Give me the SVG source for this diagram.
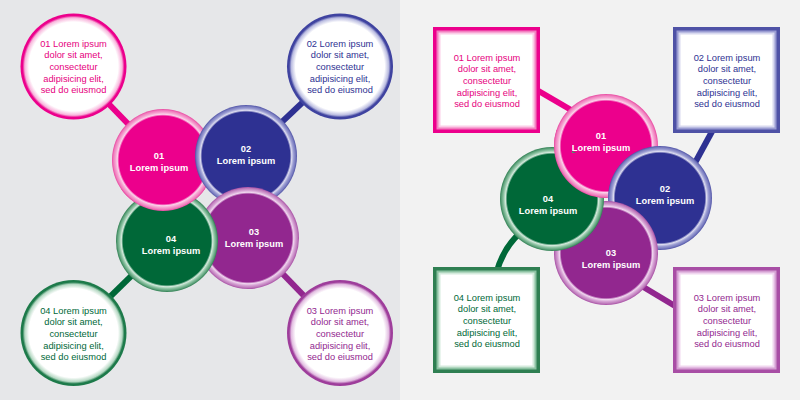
<svg xmlns="http://www.w3.org/2000/svg" xmlns:xlink="http://www.w3.org/1999/xlink" width="800" height="400" viewBox="0 0 800 400">
<defs>
<style>
.t{font-family:"Liberation Sans",Arial,sans-serif;font-size:9.3px;text-anchor:middle}
.b{font-family:"Liberation Sans",Arial,sans-serif;font-size:9.3px;font-weight:bold;text-anchor:middle;fill:#ffffff}
.c1{fill:#e6007e}.c2{fill:#2e3192}.c3{fill:#92278f}.c4{fill:#006838}
.ln{fill:none;stroke-width:6;stroke-linecap:butt}
</style>
<radialGradient id="gi1"><stop offset="0" stop-color="#ec008c"/><stop offset="0.86" stop-color="#ec008c"/><stop offset="0.895" stop-color="#fbd3ea"/><stop offset="0.935" stop-color="#f5a0cf"/><stop offset="0.97" stop-color="#f07cbd"/><stop offset="1" stop-color="#e8469f"/></radialGradient>
<radialGradient id="gi2"><stop offset="0" stop-color="#2e3192"/><stop offset="0.86" stop-color="#2e3192"/><stop offset="0.895" stop-color="#dcdcf0"/><stop offset="0.935" stop-color="#9a9cd2"/><stop offset="0.97" stop-color="#7a7dc0"/><stop offset="1" stop-color="#4f52a6"/></radialGradient>
<radialGradient id="gi3"><stop offset="0" stop-color="#92278f"/><stop offset="0.86" stop-color="#92278f"/><stop offset="0.895" stop-color="#f0d6ef"/><stop offset="0.935" stop-color="#d49fd2"/><stop offset="0.97" stop-color="#c07dbd"/><stop offset="1" stop-color="#a84ea5"/></radialGradient>
<radialGradient id="gi4"><stop offset="0" stop-color="#006838"/><stop offset="0.86" stop-color="#006838"/><stop offset="0.895" stop-color="#d4eadc"/><stop offset="0.935" stop-color="#8cc2a2"/><stop offset="0.97" stop-color="#5fa37c"/><stop offset="1" stop-color="#2f7f52"/></radialGradient>
<radialGradient id="go1"><stop offset="0" stop-color="#ffffff"/><stop offset="0.84" stop-color="#ffffff"/><stop offset="0.92" stop-color="#f8b6dc"/><stop offset="0.96" stop-color="#ec008c"/><stop offset="1" stop-color="#ec008c"/></radialGradient>
<radialGradient id="go2"><stop offset="0" stop-color="#ffffff"/><stop offset="0.84" stop-color="#ffffff"/><stop offset="0.92" stop-color="#b9bbe0"/><stop offset="0.96" stop-color="#3f43a0"/><stop offset="1" stop-color="#3f43a0"/></radialGradient>
<radialGradient id="go3"><stop offset="0" stop-color="#ffffff"/><stop offset="0.84" stop-color="#ffffff"/><stop offset="0.92" stop-color="#e2bde1"/><stop offset="0.96" stop-color="#9e3d9b"/><stop offset="1" stop-color="#9e3d9b"/></radialGradient>
<radialGradient id="go4"><stop offset="0" stop-color="#ffffff"/><stop offset="0.84" stop-color="#ffffff"/><stop offset="0.92" stop-color="#b5d8c3"/><stop offset="0.96" stop-color="#1d7a4a"/><stop offset="1" stop-color="#1d7a4a"/></radialGradient>
<clipPath id="clipL"><rect x="100" y="189" width="115" height="60"/></clipPath>
<clipPath id="clipR"><path d="M540 130 H572 V153 H605 V199 H540 Z"/></clipPath>
</defs>

<rect x="0" y="0" width="400" height="400" fill="#e6e7e9"/>
<rect x="400" y="0" width="400" height="400" fill="#f2f2f2"/>

<g id="connectors">
<line class="ln" x1="73" y1="67" x2="163" y2="160" stroke="#ec008c"/>
<line class="ln" x1="340" y1="67" x2="246" y2="156" stroke="#2e3192"/>
<line class="ln" x1="340" y1="333" x2="248" y2="238" stroke="#92278f"/>
<line class="ln" x1="73" y1="333" x2="167" y2="241" stroke="#006838"/>
<line class="ln" x1="530" y1="86" x2="578" y2="114" stroke="#ec008c"/>
<line class="ln" x1="715" y1="126" x2="690" y2="172" stroke="#2e3192"/>
<line class="ln" x1="640" y1="285" x2="680" y2="309" stroke="#92278f"/>
<path class="ln" d="M526 228 Q504 244 496 274" stroke="#006838"/>
</g>

<g id="left-detail-01">
<circle cx="73.5" cy="66.5" r="53" fill="url(#go1)"/>
<text class="t c1"><tspan x="73.5" y="46.5">01 Lorem ipsum</tspan><tspan x="73.5" y="58.2">dolor sit amet,</tspan><tspan x="73.5" y="69.9">consectetur</tspan><tspan x="73.5" y="81.6">adipisicing elit,</tspan><tspan x="73.5" y="93.3">sed do eiusmod</tspan></text>
</g>
<g id="left-detail-02">
<circle cx="340" cy="66.5" r="53" fill="url(#go2)"/>
<text class="t c2"><tspan x="340" y="46.5">02 Lorem ipsum</tspan><tspan x="340" y="58.2">dolor sit amet,</tspan><tspan x="340" y="69.9">consectetur</tspan><tspan x="340" y="81.6">adipisicing elit,</tspan><tspan x="340" y="93.3">sed do eiusmod</tspan></text>
</g>
<g id="left-detail-03">
<circle cx="340" cy="333" r="53" fill="url(#go3)"/>
<text class="t c3"><tspan x="340" y="313.5">03 Lorem ipsum</tspan><tspan x="340" y="325.2">dolor sit amet,</tspan><tspan x="340" y="336.9">consectetur</tspan><tspan x="340" y="348.6">adipisicing elit,</tspan><tspan x="340" y="360.3">sed do eiusmod</tspan></text>
</g>
<g id="left-detail-04">
<circle cx="73.5" cy="333" r="53" fill="url(#go4)"/>
<text class="t c4"><tspan x="73.5" y="313.5">04 Lorem ipsum</tspan><tspan x="73.5" y="325.2">dolor sit amet,</tspan><tspan x="73.5" y="336.9">consectetur</tspan><tspan x="73.5" y="348.6">adipisicing elit,</tspan><tspan x="73.5" y="360.3">sed do eiusmod</tspan></text>
</g>

<g id="left-step-01">
<circle id="ls1" cx="163" cy="160" r="51" fill="url(#gi1)"/>
<text class="b"><tspan x="159" y="158.5">01</tspan><tspan x="159" y="170.5">Lorem ipsum</tspan></text>
</g>
<g id="left-step-02">
<circle cx="246" cy="156" r="51" fill="url(#gi2)"/>
<text class="b"><tspan x="246" y="151.5">02</tspan><tspan x="246" y="163.5">Lorem ipsum</tspan></text>
</g>
<g id="left-step-03">
<circle cx="248" cy="238" r="51" fill="url(#gi3)"/>
<text class="b"><tspan x="254" y="234.5">03</tspan><tspan x="254" y="246.5">Lorem ipsum</tspan></text>
</g>
<g id="left-step-04">
<circle cx="167" cy="241" r="51" fill="url(#gi4)"/>
<text class="b"><tspan x="171" y="241.5">04</tspan><tspan x="171" y="253.5">Lorem ipsum</tspan></text>
</g>
<use xlink:href="#ls1" href="#ls1" clip-path="url(#clipL)"/>

<g id="right-detail-01">
<rect x="433" y="27" width="107" height="106" fill="#ec008c"/>
<rect x="436.5" y="30.5" width="100" height="99" fill="#f27fc0"/>
<rect x="438.5" y="32.5" width="96" height="95" fill="#fbcde7"/>
<rect x="440.5" y="34.5" width="92" height="91" fill="#ffffff"/>
<text class="t c1"><tspan x="487" y="60.5">01 Lorem ipsum</tspan><tspan x="487" y="72.2">dolor sit amet,</tspan><tspan x="487" y="83.9">consectetur</tspan><tspan x="487" y="95.6">adipisicing elit,</tspan><tspan x="487" y="107.3">sed do eiusmod</tspan></text>
</g>
<g id="right-detail-02">
<rect x="673" y="27" width="107" height="106" fill="#4f52a6"/>
<rect x="676.5" y="30.5" width="100" height="99" fill="#9a9cd2"/>
<rect x="678.5" y="32.5" width="96" height="95" fill="#d8d9ef"/>
<rect x="680.5" y="34.5" width="92" height="91" fill="#ffffff"/>
<text class="t c2"><tspan x="727" y="60.5">02 Lorem ipsum</tspan><tspan x="727" y="72.2">dolor sit amet,</tspan><tspan x="727" y="83.9">consectetur</tspan><tspan x="727" y="95.6">adipisicing elit,</tspan><tspan x="727" y="107.3">sed do eiusmod</tspan></text>
</g>
<g id="right-detail-03">
<rect x="673" y="267" width="107" height="106" fill="#a84ea5"/>
<rect x="676.5" y="270.5" width="100" height="99" fill="#d49fd2"/>
<rect x="678.5" y="272.5" width="96" height="95" fill="#f0d6ef"/>
<rect x="680.5" y="274.5" width="92" height="91" fill="#ffffff"/>
<text class="t c3"><tspan x="727" y="300.5">03 Lorem ipsum</tspan><tspan x="727" y="312.2">dolor sit amet,</tspan><tspan x="727" y="323.9">consectetur</tspan><tspan x="727" y="335.6">adipisicing elit,</tspan><tspan x="727" y="347.3">sed do eiusmod</tspan></text>
</g>
<g id="right-detail-04">
<rect x="433" y="267" width="107" height="106" fill="#2f7f52"/>
<rect x="436.5" y="270.5" width="100" height="99" fill="#8cc2a2"/>
<rect x="438.5" y="272.5" width="96" height="95" fill="#d4eadc"/>
<rect x="440.5" y="274.5" width="92" height="91" fill="#ffffff"/>
<text class="t c4"><tspan x="487" y="300.5">04 Lorem ipsum</tspan><tspan x="487" y="312.2">dolor sit amet,</tspan><tspan x="487" y="323.9">consectetur</tspan><tspan x="487" y="335.6">adipisicing elit,</tspan><tspan x="487" y="347.3">sed do eiusmod</tspan></text>
</g>

<g id="right-step-01">
<circle id="rs1" cx="606" cy="146" r="52" fill="url(#gi1)"/>
<text class="b"><tspan x="601" y="138.5">01</tspan><tspan x="601" y="150.5">Lorem ipsum</tspan></text>
</g>
<g id="right-step-02">
<circle cx="660" cy="198" r="52" fill="url(#gi2)"/>
<text class="b"><tspan x="665" y="191.5">02</tspan><tspan x="665" y="203.5">Lorem ipsum</tspan></text>
</g>
<g id="right-step-03">
<circle cx="606" cy="253" r="52" fill="url(#gi3)"/>
<text class="b"><tspan x="611" y="255.5">03</tspan><tspan x="611" y="267.5">Lorem ipsum</tspan></text>
</g>
<g id="right-step-04">
<circle cx="552" cy="199" r="52" fill="url(#gi4)"/>
<text class="b"><tspan x="548" y="201.5">04</tspan><tspan x="548" y="213.5">Lorem ipsum</tspan></text>
</g>
<use xlink:href="#rs1" href="#rs1" clip-path="url(#clipR)"/>
</svg>
